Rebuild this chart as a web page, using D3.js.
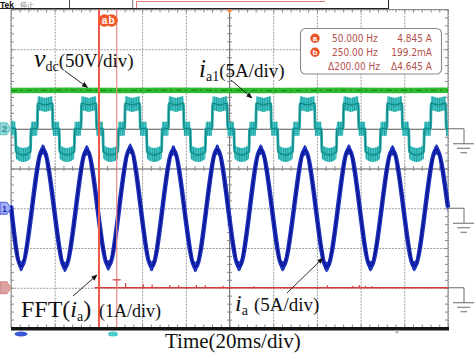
<!DOCTYPE html>
<html><head><meta charset="utf-8">
<script src="https://cdn.jsdelivr.net/npm/d3@7"></script>
<style>html,body{margin:0;padding:0;background:#fff;overflow:hidden}</style>
</head><body>
<svg id="c" width="474" height="353"></svg>
<script>
// ---------------- DATA ----------------
// time axis: 10 divisions of 20 ms
const timeDivs = [0, 20, 40, 60, 80, 100, 120, 140, 160, 180, 200];
// vertical: 8 divisions
const vertDivs = [-4, -3, -2, -1, 0, 1, 2, 3, 4];

// v_dc (V), 50 V/div, ground at bottom line
const vdcT = [0, 25, 50, 75, 100, 125, 150, 175, 200];
const vdcV = [298, 298.5, 298.1, 298.4, 298.2, 298.0, 298.4, 298.2, 298.3];

// i_a1 (A), 5 A/div, ground +1 div  (corner points of stepped waveform)
const ia1 = [
 [0,0.1],[2.0,0],[2.3,-2.9],[5.6,-3.3],[8.9,-2.9],[9.2,0],[12.0,0],[12.3,3.2],[15.6,3.0],[18.9,3.2],[19.2,0],
 [22.0,0],[22.3,-2.9],[25.6,-3.3],[28.9,-2.9],[29.2,0],[32.0,0],[32.3,3.2],[35.6,3.0],[38.9,3.2],[39.2,0],
 [42.0,0],[42.3,-2.9],[45.6,-3.3],[48.9,-2.9],[49.2,0],[52.0,0],[52.3,3.2],[55.6,3.0],[58.9,3.2],[59.2,0],
 [62.0,0],[62.3,-2.9],[65.6,-3.3],[68.9,-2.9],[69.2,0],[72.0,0],[72.3,3.2],[75.6,3.0],[78.9,3.2],[79.2,0],
 [82.0,0],[82.3,-2.9],[85.6,-3.3],[88.9,-2.9],[89.2,0],[92.0,0],[92.3,3.2],[95.6,3.0],[98.9,3.2],[99.2,0],
 [102.0,0],[102.3,-2.9],[105.6,-3.3],[108.9,-2.9],[109.2,0],[112.0,0],[112.3,3.2],[115.6,3.0],[118.9,3.2],[119.2,0],
 [122.0,0],[122.3,-2.9],[125.6,-3.3],[128.9,-2.9],[129.2,0],[132.0,0],[132.3,3.2],[135.6,3.0],[138.9,3.2],[139.2,0],
 [142.0,0],[142.3,-2.9],[145.6,-3.3],[148.9,-2.9],[149.2,0],[152.0,0],[152.3,3.2],[155.6,3.0],[158.9,3.2],[159.2,0],
 [162.0,0],[162.3,-2.9],[165.6,-3.3],[168.9,-2.9],[169.2,0],[172.0,0],[172.3,3.2],[175.6,3.0],[178.9,3.2],[179.2,0],
 [182.0,0],[182.3,-2.9],[185.6,-3.3],[188.9,-2.9],[189.2,0],[192.0,0],[192.3,3.2],[195.6,3.0],[198.9,3.2],[199.2,0],
 [200,0]
];

// i_a (A), 5 A/div, ground -1 div  (zero crossings, peaks, troughs)
const iaT = [0, 4.6, 9.6, 14.6, 19.7, 24.7, 29.7, 34.7, 39.6, 44.6, 49.5, 54.5, 59.4, 64.4, 69.3, 74.3,
             79.3, 84.4, 89.4, 94.4, 99.4, 104.4, 109.3, 114.3, 119.4, 124.4, 129.5, 134.5, 139.5, 144.5,
             149.6, 154.6, 159.6, 164.6, 169.6, 174.6, 179.6, 184.6, 189.6, 194.7, 200];
const iaV = [0.3, -7.3, 0, 7.4, 0, -7.4, 0, 7.3, 0, -7.2, 0, 7.5, 0, -7.3, 0, 7.3,
             0, -7.4, 0, 7.4, 0, -7.3, 0, 7.4, 0, -7.3, 0, 7.3, 0, -7.4, 0, 7.4, 0, -7.3, 0, 7.3,
             0, -7.3, 0, 7.4, 0.1];

// FFT(i_a): 1 A/div, ground -3 div
const fftFreq = [50, 250, 350, 550, 650, 850, 950, 1150, 1250, 1450, 1800, 2630, 2920, 2990, 3060, 3130];
const fftAmp  = [4.845, 0.199, 0.12, 0.09, 0.08, 0.07, 0.06, 0.07, 0.06, 0.05, 0.04, 0.06, 0.05, 0.07, 0.05, 0.04];
const fftSpan = [0, 3990];

// cursors
const cursorA = 50, cursorB = 250;
const readoutRows = [
  {tag: "a", freq: "50.000 Hz", amp: "4.845 A"},
  {tag: "b", freq: "250.00 Hz", amp: "199.2mA"},
  {tag: "",  freq: "\u0394200.00 Hz", amp: "\u03944.645 A"}
];

// ---------------- DRAW ----------------
const W = 474, H = 353;
const P = {l: 11, r: 448, t: 9.5, b: 327.5};
const svg = d3.select("#c");
svg.append("rect").attr("width", W).attr("height", H).attr("fill", "#fff");
const defs = svg.append("defs");
function stripes(id, color, w, gap) {
  const p = defs.append("pattern").attr("id", id).attr("patternUnits", "userSpaceOnUse")
    .attr("width", w + gap).attr("height", 4);
  p.append("rect").attr("x", 0).attr("y", 0).attr("width", w).attr("height", 4).attr("fill", color);
}
stripes("stC", "#178e8e", 1, 1.3);
stripes("stB", "#0c1890", 1, 1);

const x = d3.scaleLinear().domain([0, 200]).range([P.l, P.r]);
const yDiv = d3.scaleLinear().domain([-4, 4]).range([P.b, P.t]);
const yVdc = d3.scaleLinear().domain([0, 400]).range([P.b, P.t]);
const yIa1 = d3.scaleLinear().domain([-25, 15]).range([P.b, P.t]);
const yIa  = d3.scaleLinear().domain([-15, 25]).range([P.b, P.t]);
const yFft = d3.scaleLinear().domain([-1, 7]).range([P.b, P.t]);
const xF = d3.scaleLinear().domain([0, 4000]).range([94.6, 448.6]);

// top status strip
svg.append("text").attr("x", 0).attr("y", 7.5).attr("font-family", "Liberation Sans, Arial, sans-serif")
  .attr("font-weight", "bold").attr("font-size", 8.5).attr("fill", "#111").text("Tek");
svg.append("text").attr("x", 20).attr("y", 7.6).attr("font-family", "Noto Sans CJK SC, sans-serif")
  .attr("font-size", 7).attr("fill", "#8a8a8a").text("停止");
svg.append("line").attr("x1", 0).attr("x2", 389).attr("y1", 8.5).attr("y2", 8.5).attr("stroke", "#222").attr("stroke-width", 1.2);
svg.append("line").attr("x1", 69.5).attr("x2", 69.5).attr("y1", 0).attr("y2", 8).attr("stroke", "#444");
svg.append("line").attr("x1", 388.5).attr("x2", 388.5).attr("y1", 0).attr("y2", 8).attr("stroke", "#222");
svg.append("line").attr("x1", 132.7).attr("x2", 132.7).attr("y1", 0).attr("y2", 8).attr("stroke", "#777");
svg.append("path").attr("d", "M136.5,8 V1.5 H325").attr("fill", "none").attr("stroke", "#e27b78").attr("stroke-width", 1);

// grid
const gv = svg.append("g").attr("transform", `translate(0,${P.t})`)
  .call(d3.axisTop(x).tickValues(timeDivs).tickSize(-(P.b - P.t)).tickFormat(""));
gv.select(".domain").remove();
gv.selectAll("line").attr("stroke", "#9c9c9c").attr("stroke-dasharray", "2,1.2");
const gh = svg.append("g").attr("transform", `translate(${P.l},0)`)
  .call(d3.axisLeft(yDiv).tickValues(vertDivs).tickSize(-(P.r - P.l)).tickFormat(""));
gh.select(".domain").remove();
gh.selectAll("line").attr("stroke", d => (d === 0 || d === 1) ? "#555" : "#9c9c9c")
  .attr("stroke-dasharray", d => (d === 0 || d === 1) ? null : "2,1.2");
svg.append("line").attr("x1", x(100)).attr("x2", x(100)).attr("y1", P.t).attr("y2", P.b).attr("stroke", "#777");

// minor ticks
const minorT = d3.range(0, 200.01, 4);
const minorD = d3.range(-4, 4.01, 0.2);
function ticks(axis, tr) {
  const g = svg.append("g").attr("transform", tr).call(axis.tickFormat("").tickSizeOuter(0));
  g.select(".domain").remove();
  g.selectAll("line").attr("stroke", "#8a8a8a");
}
ticks(d3.axisBottom(x).tickValues(minorT).tickSize(3), `translate(0,${P.t})`);
ticks(d3.axisTop(x).tickValues(minorT).tickSize(3), `translate(0,${P.b})`);
ticks(d3.axisBottom(x).tickValues(minorT).tickSize(2.5), `translate(0,${yDiv(0)})`);
ticks(d3.axisTop(x).tickValues(minorT).tickSize(2.5), `translate(0,${yDiv(0)})`);
ticks(d3.axisRight(yDiv).tickValues(minorD).tickSize(3), `translate(${P.l},0)`);
ticks(d3.axisLeft(yDiv).tickValues(minorD).tickSize(3), `translate(${P.r},0)`);
ticks(d3.axisRight(yDiv).tickValues(minorD).tickSize(2.5), `translate(${x(100)},0)`);
ticks(d3.axisLeft(yDiv).tickValues(minorD).tickSize(2.5), `translate(${x(100)},0)`);

// border
svg.append("path").attr("d", `M${P.l},${P.b} V${P.t} H${P.r} V${P.b}`).attr("fill", "none").attr("stroke", "#8a8a8a");

// ground symbols on the right
[yIa1(0), yIa(0), yFft(0)].forEach(gy => {
  const g = svg.append("g").attr("stroke", "#6a6a6a").attr("stroke-width", 1);
  g.append("path").attr("d", `M${P.r},${gy} H464 V${gy + 15}`).attr("fill", "none");
  g.append("line").attr("x1", 453).attr("x2", 474).attr("y1", gy + 15).attr("y2", gy + 15);
  g.append("line").attr("x1", 457).attr("x2", 470).attr("y1", gy + 19.5).attr("y2", gy + 19.5);
  g.append("line").attr("x1", 460.5).attr("x2", 467).attr("y1", gy + 24).attr("y2", gy + 24);
});

// ---- traces ----
// v_dc
const vdcLine = d3.line().x((d, i) => x(vdcT[i])).y(d => yVdc(d));
svg.append("path").attr("d", vdcLine(vdcV)).attr("fill", "none").attr("stroke", "#2fbb2f").attr("stroke-width", 5.5);
svg.append("path").attr("d", vdcLine(vdcV)).attr("fill", "none").attr("stroke", "#178f17").attr("stroke-width", 1.2)
  .attr("stroke-dasharray", "6,3,2,4");

// i_a1 : vertical noise band
const hC = 7;
const ia1Area = d3.area().curve(d3.curveMonotoneX).x(d => x(d[0]))
  .y0(d => yIa1(d[1]) - hC).y1(d => yIa1(d[1]) + hC);
const ia1Line = d3.line().curve(d3.curveMonotoneX).x(d => x(d[0])).y(d => yIa1(d[1]));
svg.append("path").attr("d", ia1Area(ia1)).attr("fill", "#45caca");
svg.append("path").attr("d", ia1Area(ia1)).attr("fill", "url(#stC)").attr("opacity", 0.8);
svg.append("path").attr("d", ia1Line(ia1)).attr("fill", "none").attr("stroke", "#27adad")
  .attr("stroke-width", 2.8).attr("stroke-linejoin", "round");
svg.append("path").attr("d", ia1Line(ia1)).attr("fill", "none").attr("stroke", "#127f7f")
  .attr("stroke-width", 1).attr("stroke-linejoin", "round");

// i_a : noise band
const hB = 5;
const iaArea = d3.area().curve(d3.curveNatural).x((d, i) => x(iaT[i]))
  .y0(d => yIa(d) - hB).y1(d => yIa(d) + hB);
const iaLine = d3.line().curve(d3.curveNatural).x((d, i) => x(iaT[i])).y(d => yIa(d));
svg.append("path").attr("d", iaArea(iaV)).attr("fill", "#2a44d4");
svg.append("path").attr("d", iaArea(iaV)).attr("fill", "url(#stB)").attr("opacity", 0.7);
svg.append("path").attr("d", iaLine(iaV)).attr("fill", "none").attr("stroke", "#1e32c0")
  .attr("stroke-width", 4.5);
svg.append("path").attr("d", iaLine(iaV)).attr("fill", "none").attr("stroke", "#0a1490")
  .attr("stroke-width", 1.6);

// FFT
svg.append("line").attr("x1", xF(fftSpan[0])).attr("x2", xF(fftSpan[1]))
  .attr("y1", yFft(0)).attr("y2", yFft(0)).attr("stroke", "#d23c3c").attr("stroke-width", 1.3);
svg.selectAll(".spk").data(fftFreq).enter().append("line")
  .attr("x1", d => xF(d)).attr("x2", d => xF(d))
  .attr("y1", yFft(0)).attr("y2", (d, i) => yFft(fftAmp[i]))
  .attr("stroke", "#d23c3c").attr("stroke-width", 1.2);

// cursors
svg.append("line").attr("x1", xF(cursorA)).attr("x2", xF(cursorA)).attr("y1", P.t).attr("y2", P.b)
  .attr("stroke", "#ee5a48").attr("stroke-width", 2);
svg.append("line").attr("x1", xF(cursorB)).attr("x2", xF(cursorB)).attr("y1", P.t).attr("y2", P.b)
  .attr("stroke", "#eb8a84").attr("stroke-width", 1.2);
svg.append("line").attr("x1", xF(cursorB) - 4).attr("x2", xF(cursorB) + 4)
  .attr("y1", yFft(fftAmp[1])).attr("y2", yFft(fftAmp[1])).attr("stroke", "#d23c3c").attr("stroke-width", 1.2);
// cursor badges
const badges = [["a", xF(cursorA) + 5.5], ["b", xF(cursorA) + 12.5]];
badges.forEach(([t, cx]) => {
  svg.append("circle").attr("cx", cx).attr("cy", 20.5).attr("r", 6.2).attr("fill", "#f2592a");
});
badges.forEach(([t, cx]) => {
  svg.append("text").attr("x", cx).attr("y", 24).attr("text-anchor", "middle")
    .attr("font-family", "Liberation Sans, Arial, sans-serif").attr("font-weight", "bold")
    .attr("font-size", 10).attr("fill", "#fff").text(t);
});

// trigger marker
svg.append("path").attr("d", `M${x(100) - 3},${P.t} L${x(100) + 3},${P.t} L${x(100)},${P.t + 4} Z`).attr("fill", "#f08a3a");

// channel badges
function badge(cy, fill, stroke, label, tc) {
  svg.append("path").attr("d", `M0,${cy - 6} H7 L11,${cy} L7,${cy + 6} H0 Z`)
    .attr("fill", fill).attr("stroke", stroke).attr("stroke-width", 0.8);
  if (label) svg.append("text").attr("x", 4.5).attr("y", cy + 3.5).attr("text-anchor", "middle")
    .attr("font-family", "Liberation Sans, Arial, sans-serif").attr("font-size", 9).attr("font-weight", "bold")
    .attr("fill", tc).text(label);
}
badge(yIa1(0), "#8fd8d8", "#5cbcbc", "2", "#2a8a8a");
badge(yIa(0), "#a3aef4", "#3242d2", "1", "#2333c4");
badge(yFft(0), "#dca2a2", "#c57a7a", "", "#a55");

// bottom bar
svg.append("rect").attr("x", P.l).attr("y", 327).attr("width", P.r - P.l + 1).attr("height", 3.5).attr("fill", "#151515");
svg.append("ellipse").attr("cx", 21).attr("cy", 334).attr("rx", 6.5).attr("ry", 2.5).attr("fill", "#3a58d6");
svg.append("ellipse").attr("cx", 113).attr("cy", 334).attr("rx", 5).attr("ry", 2.5).attr("fill", "#4ccccc");
svg.append("path").attr("d", "M394,330.5 L400,330.5 L397,334 Z").attr("fill", "#bbb");

// readout box
const rb = svg.append("g");
rb.append("rect").attr("x", 300.5).attr("y", 28.5).attr("width", 141).attr("height", 45.5).attr("rx", 5)
  .attr("fill", "#fff").attr("stroke", "#8a8a8a").attr("stroke-width", 1.1);
const rowY = [41.8, 55.8, 70.2];
const rowX = [332, 332, 328];
readoutRows.forEach((r, i) => {
  if (r.tag) {
    rb.append("circle").attr("cx", 315).attr("cy", rowY[i] - 3.5).attr("r", 4.7).attr("fill", "#ea5428");
    rb.append("text").attr("x", 315).attr("y", rowY[i] - 0.6).attr("text-anchor", "middle")
      .attr("font-family", "Liberation Sans, Arial, sans-serif").attr("font-weight", "bold")
      .attr("font-size", 8).attr("fill", "#fff").text(r.tag);
  }
  rb.append("text").attr("x", rowX[i]).attr("y", rowY[i])
    .attr("font-family", "Liberation Sans Narrow, DejaVu Sans Condensed, Arial Narrow, sans-serif")
    .attr("font-size", 10).attr("fill", "#b3504a").text(r.freq);
  rb.append("text").attr("x", 432).attr("y", rowY[i]).attr("text-anchor", "end")
    .attr("font-family", "Liberation Sans Narrow, DejaVu Sans Condensed, Arial Narrow, sans-serif")
    .attr("font-size", 10).attr("fill", "#b3504a").text(r.amp);
});

// ---- annotations ----
const serif = "Liberation Serif, Times New Roman, serif";
function lbl(xp, yp, parts) {
  const t = svg.append("text").attr("x", xp).attr("y", yp).attr("font-family", serif).attr("fill", "#111");
  parts.forEach(p => {
    const s = t.append("tspan").attr("font-size", p.s).text(p.t);
    if (p.i) s.attr("font-style", "italic");
    if (p.dy) s.attr("dy", p.dy);
    if (p.x !== undefined) s.attr("x", p.x);
  });
}
lbl(34, 67, [{t: "v", s: 26, i: true}, {t: "dc", s: 14, dy: 4}, {t: "(50V/div)", s: 19, dy: -4}]);
lbl(199, 77, [{t: "i", s: 25, i: true}, {t: "a1", s: 14, dy: 4}, {t: "(5A/div)", s: 19, dy: -4}]);
lbl(21, 317, [{t: "FFT(", s: 24}, {t: "i", s: 24, i: true}, {t: "a", s: 14, dy: 4}, {t: ")", s: 24, dy: -4},
              {t: "(1A/div)", s: 18, x: 99}]);
lbl(235, 311, [{t: "i", s: 24, i: true}, {t: "a", s: 14, dy: 4}, {t: "(5A/div)", s: 19, dy: -4, x: 254}]);
lbl(165, 348, [{t: "Time(20ms/div)", s: 21}]);

// arrows
defs.append("marker").attr("id", "ah").attr("viewBox", "0 0 10 10").attr("refX", 9).attr("refY", 5)
  .attr("markerWidth", 7).attr("markerHeight", 7).attr("orient", "auto")
  .append("path").attr("d", "M0,1 L10,5 L0,9 Z").attr("fill", "#111");
[[65, 71, 87.5, 87.5], [231, 80, 252, 98], [73, 296, 97, 275], [287, 293, 323, 258]].forEach(a => {
  svg.append("line").attr("x1", a[0]).attr("y1", a[1]).attr("x2", a[2]).attr("y2", a[3])
    .attr("stroke", "#111").attr("stroke-width", 0.9).attr("marker-end", "url(#ah)");
});
</script>
</body></html>
